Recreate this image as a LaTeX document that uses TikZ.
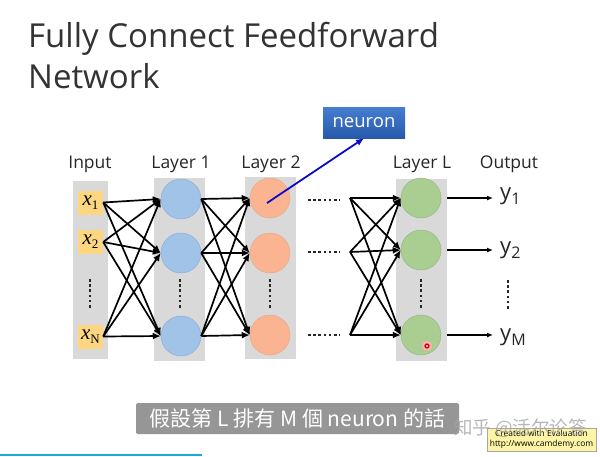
\documentclass[tikz,border=0pt]{standalone}
\usepackage{fontspec}
\setmainfont{Open Sans}
\newfontfamily\cjk{Noto Sans CJK TC}
\newfontfamily\serifx{Liberation Serif}
\usetikzlibrary{arrows.meta}
\definecolor{band}{RGB}{217,217,217}
\definecolor{inbox}{RGB}{253,214,130}
\definecolor{blueN}{RGB}{161,195,232}
\definecolor{blueD}{RGB}{140,175,215}
\definecolor{orangeN}{RGB}{250,180,145}
\definecolor{orangeD}{RGB}{232,170,140}
\definecolor{greenN}{RGB}{170,205,145}
\definecolor{greenD}{RGB}{150,185,130}
\definecolor{neurontop}{RGB}{70,125,210}
\definecolor{neuronbot}{RGB}{40,90,170}
\definecolor{linkblue}{RGB}{10,10,200}
\definecolor{subgray}{RGB}{150,150,150}
\definecolor{camyellow}{RGB}{253,245,165}
\definecolor{camline}{RGB}{28,170,215}
\tikzset{
  bandbox/.style={fill=band,draw=none,inner sep=0pt,anchor=north west},
  inputbox/.style={fill=inbox,draw=none,minimum width=25pt,minimum height=24pt,inner sep=0pt,font=\fontsize{21}{21}\serifx\itshape},
  cell/.style={circle,minimum size=40pt,inner sep=0pt,line width=.5pt},
  cellblue/.style={cell,fill=blueN,draw=blueD},
  cellorange/.style={cell,fill=orangeN,draw=orangeD},
  cellgreen/.style={cell,fill=greenN,draw=greenD},
  head/.style={font=\fontsize{17.5}{17.5}\selectfont,text=black!85},
  outlabel/.style={font=\fontsize{22}{22}\selectfont,text=black!85,anchor=west,inner sep=0pt},
  wire/.style={-{Latex[length=8pt,width=7pt]},line width=1.7pt,black},
  outwire/.style={-{Latex[length=6pt,width=5pt]},line width=1.2pt,black,shorten >=7pt},
  dotrow/.style={line width=2.6pt,dash pattern=on 2.6pt off 2.6pt,black!85},
}
\begin{document}
\begin{tikzpicture}[x=1pt,y=-1pt]
\useasboundingbox (0,0) rectangle (600,456);
\fill[white] (0,0) rectangle (600,456);
% title
\node[anchor=north west,inner sep=0pt,align=left,text=black!80,font=\fontsize{33}{41}\selectfont] (title) at (28,22.5) {Fully Connect Feedforward\\Network};
% bands
\node[bandbox,minimum width=35pt,minimum height=178pt] (bandI) at (73,181) {};
\node[bandbox,minimum width=51pt,minimum height=183pt] (bandA) at (154,178) {};
\node[bandbox,minimum width=51pt,minimum height=182pt] (bandB) at (245,177) {};
\node[bandbox,minimum width=51pt,minimum height=182pt] (bandL) at (396,179) {};
% headers
\node[head] (hI) at (90,164) {Input};
\node[head] (hA) at (181,164) {Layer 1};
\node[head] (hB) at (271,164) {Layer 2};
\node[head] (hL) at (422,164) {Layer L};
\node[head] (hO) at (509,164) {Output};
% inputs
\node[inputbox] (x1) at (90.5,202.5) {x\raisebox{-4pt}{\fontsize{13}{13}\selectfont\upshape 1}};
\node[inputbox] (x2) at (90.5,242) {x\raisebox{-4pt}{\fontsize{13}{13}\selectfont\upshape 2}};
\node[inputbox] (xN) at (90.5,336.5) {x\raisebox{-4pt}{\fontsize{13}{13}\selectfont\upshape N}};
% cells
\node[cellblue] (a1) at (181,199) {};
\node[cellblue] (a2) at (181,253) {};
\node[cellblue] (a3) at (181,336) {};
\node[cellorange] (b1) at (270,198) {};
\node[cellorange] (b2) at (270,253) {};
\node[cellorange] (b3) at (270,335) {};
\node[cellgreen] (c1) at (421,198) {};
\node[cellgreen] (c2) at (421,250) {};
\node[cellgreen] (c3) at (421,335) {};
% sources in front of layer L
\coordinate (s1) at (350,198);
\coordinate (s2) at (350,252);
\coordinate (s3) at (350,335);
% wires
\foreach \f in {x1,x2,xN}{\foreach \t in {a1,a2,a3}{\draw[wire] (\f.east) -- (\t.west);}}
\foreach \f in {a1,a2,a3}{\foreach \t in {b1,b2,b3}{\draw[wire] (\f.east) -- (\t.west);}}
\foreach \f in {s1,s2,s3}{\foreach \t in {c1,c2,c3}{\draw[wire] (\f) -- (\t.west);}}
% outputs
\node[outlabel] (y1) at (500,196) {y\raisebox{-5pt}{\fontsize{16}{16}\selectfont 1}};
\node[outlabel] (y2) at (500,250) {y\raisebox{-5pt}{\fontsize{16}{16}\selectfont 2}};
\node[outlabel] (yM) at (500,337) {y\raisebox{-5pt}{\fontsize{16}{16}\selectfont M}};
\coordinate (o1) at (447,198);
\coordinate (o2) at (447,250);
\coordinate (o3) at (447,335);
\draw[outwire] (o1) -- (y1.west |- o1);
\draw[outwire] (o2) -- (y2.west |- o2);
\draw[outwire] (o3) -- (yM.west |- o3);
% dots
\foreach \y in {200,252,335}{\draw[dotrow] (308,\y) -- (340,\y);}
\draw[dotrow] (90,279) -- (90,310);
\draw[dotrow] (180,279) -- (180,310);
\draw[dotrow] (270,279) -- (270,310);
\draw[dotrow] (421,279) -- (421,310);
\draw[dotrow] (508,280) -- (508,311);
% neuron
\node[top color=neurontop,bottom color=neuronbot,text=white,minimum width=82pt,minimum height=31pt,inner sep=0pt,font=\fontsize{18.5}{18.5}\selectfont] (neuron) at (364,122.5) {neuron};
\coordinate (bstart) at (267,203);
\draw[-{Latex[length=8pt,width=7pt]},line width=1.8pt,linkblue] (bstart) -- (neuron.south);
% click mark
\fill[red!30] (427,346) circle (5pt);
\draw[red!80!black,line width=1.2pt] (427,346) circle (2pt);
% bottom
\fill[camline] (0,454) rectangle (202,456);
\node[fill=subgray,rounded corners=1.5pt,minimum width=323pt,minimum height=31pt,inner sep=0pt,text=white,font=\fontsize{21}{21}\cjk] (sub) at (297.5,418.5) {假設第 L 排有 M 個 neuron 的話};
\node[fill=camyellow,draw=black!35,line width=.4pt,minimum width=109pt,minimum height=23pt,inner sep=0pt,align=center,font=\fontsize{8.4}{10.5}\selectfont] (cam) at (541.5,439.5) {Created with Evaluation\\http://www.camdemy.com};
\node[anchor=west,inner sep=0pt,text=black!35,opacity=.8,font=\fontsize{18.5}{18.5}\cjk] (wm) at (454,428) {知乎 @活尔论答};
\end{tikzpicture}
\end{document}
